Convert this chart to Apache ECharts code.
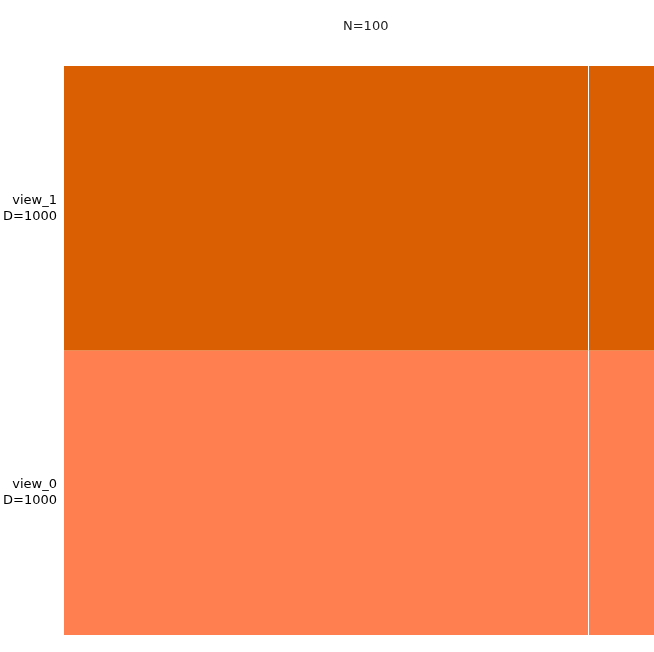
<!DOCTYPE html>
<html>
<head>
<meta charset="utf-8">
<script src="https://cdn.jsdelivr.net/npm/echarts@6/dist/echarts.min.js"></script>
<style>html,body{margin:0;padding:0;background:#fff}#main{width:654px;height:652px}</style>
</head>
<body>
<div id="main"></div>
<script>
// rows bottom-to-top
let rows = ['view_0\nD=1000', 'view_1\nD=1000'];
let rowColors = ['#ff7f50', '#d95f02'];
let segA = [80, 80];
let segB = [20, 20];
let xMax = 90;

let chart = echarts.init(document.getElementById('main'));
function mk(vals, withLine) {
    let s = {
        type: 'bar',
        stack: 'all',
        barWidth: '100%',
        data: vals.map(function (v, i) {
            return {value: v, itemStyle: {color: rowColors[i]}};
        })
    };
    if (withLine) {
        s.markLine = {
            silent: true,
            symbol: 'none',
            label: {show: false},
            lineStyle: {color: '#fff', width: 1, type: 'solid'},
            data: [{xAxis: segA[0]}]
        };
    }
    return s;
}
chart.setOption({
    animation: false,
    title: {
        text: 'N=100', left: 338, top: 15,
        textStyle: {fontSize: 13, fontWeight: 'normal', color: '#222', fontFamily: 'DejaVu Sans'}
    },
    grid: {left: 63, right: 0, top: 66, bottom: 17},
    xAxis: {type: 'value', min: 0, max: xMax, show: false},
    yAxis: {
        type: 'category', data: rows,
        axisLine: {show: false}, axisTick: {show: false},
        axisLabel: {color: '#000', fontSize: 13, fontFamily: 'DejaVu Sans', margin: 7, lineHeight: 16}
    },
    series: [mk(segA, true), mk(segB, false)]
});
</script>
</body>
</html>
